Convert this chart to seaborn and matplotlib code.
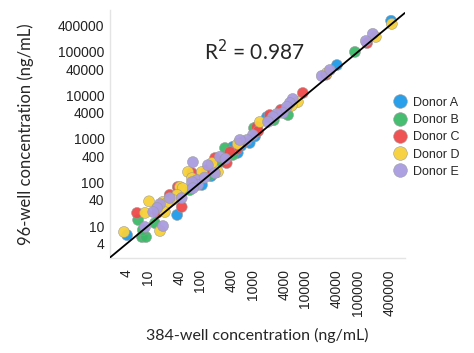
import matplotlib
matplotlib.use("Agg")
import matplotlib.pyplot as plt
import seaborn as sns
import pandas as pd
import numpy as np
from matplotlib.ticker import FixedLocator, NullLocator, FixedFormatter

# ---- data (384-well x, 96-well y) ----
donor_a_x = [430000, 40000, 1850, 870, 415, 515, 107, 36, 4.0, 600, 1100, 160]
donor_a_y = [520000, 50000, 3200, 810, 660, 480, 88, 18, 6.2, 700, 1150, 140]

donor_b_x = [88000, 4670, 1050, 294, 415, 147, 63, 6.5, 13.6, 7.7, 9.2, 8.0, 250, 2500]
donor_b_y = [100000, 3560, 1780, 620, 430, 148, 67, 13.8, 11.7, 5.6, 5.6, 8.1, 300, 2700]

donor_c_x = [8950, 3400, 2100, 1200, 1260, 650, 500, 365, 317, 190, 133, 69, 37, 44, 26, 15, 6.2, 150000, 25000]
donor_c_y = [11400, 4670, 3560, 1900, 1510, 850, 590, 500, 280, 365, 193, 165, 79, 27.5, 52, 20, 20, 160000, 30000]

donor_d_x = [445000, 220000, 25700, 7200, 1360, 515, 166, 215, 107, 58, 69, 41, 46, 36, 30, 19.4, 23, 21, 10.5, 8.8, 17, 3.5, 5500]
donor_d_y = [440000, 221000, 32800, 7080, 2460, 770, 280, 175, 175, 175, 126, 79, 74, 52, 40, 36, 34, 21, 37, 20, 7.7, 7.3, 5800]

donor_e_x = [193000, 142000, 29300, 20500, 5750, 5070, 4450, 3740, 2860, 2400, 1940, 1000, 770, 565, 235, 139,
             190, 72, 86, 90, 69, 72, 44, 26, 17, 15, 12.6, 8.8, 19.4, 300, 120]
donor_e_y = [260000, 178000, 38500, 28000, 8300, 6740, 5480, 3980, 3760, 3200, 2460, 1230, 950, 950, 390, 250,
             165, 295, 114, 88, 102, 74, 44, 44, 32, 26, 21, 9.5, 10, 350, 130]

donors = ["Donor A", "Donor B", "Donor C", "Donor D", "Donor E"]
colors = ["#1f9be9", "#3dba69", "#f04a4a", "#f7d13a", "#a99ce0"]
tick_vals = [4, 10, 40, 100, 400, 1000, 4000, 10000, 40000, 100000, 400000]
tick_labels = [str(v) for v in tick_vals]
r2_text = "R$^2$ = 0.987"

xs = [donor_a_x, donor_b_x, donor_c_x, donor_d_x, donor_e_x]
ys = [donor_a_y, donor_b_y, donor_c_y, donor_d_y, donor_e_y]
rows = []
for name, xv, yv in zip(donors, xs, ys):
    for a, b in zip(xv, yv):
        rows.append({"donor": name, "x": a, "y": b})
df = pd.DataFrame(rows)

sns.set_style("white")
plt.rcParams["font.family"] = ["Liberation Sans", "DejaVu Sans"]

fig = plt.figure(figsize=(4.74, 3.53), dpi=100)
ax = fig.add_axes([0.232, 0.269, 0.622, 0.703])

sns.scatterplot(data=df, x="x", y="y", hue="donor", hue_order=donors,
                palette=colors, s=62, edgecolor="#9a9a9a", linewidth=0.4,
                alpha=0.95, ax=ax, zorder=2)

ax.set_xscale("log")
ax.set_yscale("log")
xlim = (1.89, 785000)
ylim = (1.84, 925000)
ax.set_xlim(*xlim)
ax.set_ylim(*ylim)

lx = np.array([xlim[0], xlim[1]])
ax.plot(lx, lx, color="black", lw=1.3, zorder=3, clip_on=True)

for axis in (ax.xaxis, ax.yaxis):
    axis.set_major_locator(FixedLocator(tick_vals))
    axis.set_major_formatter(FixedFormatter(tick_labels))
    axis.set_minor_locator(NullLocator())
ax.tick_params(axis="both", length=0, labelsize=10, colors="#222222")
ax.tick_params(axis="x", rotation=90, pad=8)
ax.tick_params(axis="y", pad=4)

for s in ["top", "right"]:
    ax.spines[s].set_visible(False)
for s in ["left", "bottom"]:
    ax.spines[s].set_color("#e4e4e4")
    ax.spines[s].set_linewidth(1.0)

ax.set_xlabel("384-well concentration (ng/mL)", family=["Lato", "DejaVu Sans"], fontsize=11.5, labelpad=9)
ax.set_ylabel("96-well concentration (ng/mL)", family=["Lato", "DejaVu Sans"], fontsize=12, labelpad=17)

ax.text(0.49, 0.83, r2_text, transform=ax.transAxes, family=["Lato", "DejaVu Sans"],
        fontsize=15, ha="center", va="center")

handles, labels = ax.get_legend_handles_labels()
ax.legend(handles, labels, loc="upper left", bbox_to_anchor=(0.806, 0.74),
          bbox_transform=fig.transFigure, frameon=False, fontsize=9,
          handletextpad=0.05, labelspacing=0.42, markerscale=1.25, borderaxespad=0)

fig.savefig("out.png", dpi=100)
